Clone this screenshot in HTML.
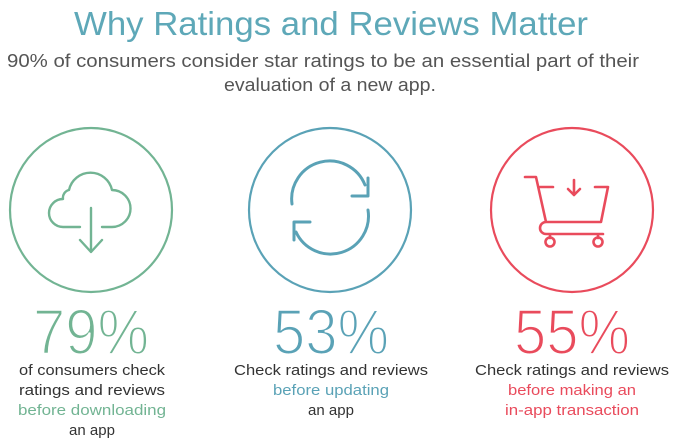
<!DOCTYPE html>
<html><head><meta charset="utf-8"><style>
html,body{margin:0;padding:0;background:#fff;width:694px;height:448px;overflow:hidden}
svg{display:block}
text{font-family:"Liberation Sans",sans-serif}
</style></head><body>
<svg width="694" height="448" viewBox="0 0 694 448">
<text x="331" y="35" text-anchor="middle" font-size="33" fill="#5ea8b8" textLength="514" lengthAdjust="spacingAndGlyphs">Why Ratings and Reviews Matter</text>
<text x="323" y="67" text-anchor="middle" font-size="18" fill="#555" textLength="632" lengthAdjust="spacingAndGlyphs">90% of consumers consider star ratings to be an essential part of their</text>
<text x="330" y="91" text-anchor="middle" font-size="18" fill="#555" textLength="212" lengthAdjust="spacingAndGlyphs">evaluation of a new app.</text>

<g fill="none" stroke-width="2.2" stroke-linecap="round" stroke-linejoin="round">
<ellipse cx="91" cy="210" rx="81" ry="82" stroke="#72b493"/>
<ellipse cx="330" cy="210" rx="81" ry="82" stroke="#5aa2b6"/>
<ellipse cx="572" cy="210" rx="81" ry="82" stroke="#e94b5c"/>
<path stroke="#72b493" stroke-width="2.4" d="M80 227 H63 a14 14 0 0 1 0 -28 a8 8 0 0 1 6 -9 a22 22 0 0 1 43 0 a12 12 0 0 1 0 37 H102 M91 208 V252 M80 240 L91 252 L102 240"/>
<path stroke="#5aa2b6" stroke-width="3" d="M292 204 A38 38 0 0 1 365 185 M352 196 H368 V178 M368 210 A38 38 0 0 1 296 232 M310 222 H294 V240"/>
<path stroke="#e94b5c" stroke-width="2.6" d="M525 177 H536 L546 222 H601 L608 187 H595 M540 187 H553 M574 180 V195 M568 189 L574 195 L580 189 M546 222 a6 6 0 0 0 0 12 H603 M550 234 V238 M598 234 V238"/>
<circle cx="550" cy="242" r="4.5" stroke="#e94b5c" stroke-width="2.6"/>
<circle cx="598" cy="242" r="4.5" stroke="#e94b5c" stroke-width="2.6"/>
</g>

<g font-family="'Liberation Sans',sans-serif" font-size="64" stroke="#fff" stroke-width="2">
<text x="91" y="354" text-anchor="middle" fill="#72b493" textLength="116" lengthAdjust="spacingAndGlyphs">79%</text>
<text x="331" y="354" text-anchor="middle" fill="#5aa2b6" textLength="116" lengthAdjust="spacingAndGlyphs">53%</text>
<text x="572" y="354" text-anchor="middle" fill="#e94b5c" textLength="116" lengthAdjust="spacingAndGlyphs">55%</text>
</g>

<g font-size="15" text-anchor="middle">
<text x="92" y="375" fill="#333" textLength="146" lengthAdjust="spacingAndGlyphs">of consumers check</text>
<text x="92" y="395" fill="#333" textLength="146" lengthAdjust="spacingAndGlyphs">ratings and reviews</text>
<text x="92" y="415" fill="#72b493" textLength="148" lengthAdjust="spacingAndGlyphs">before downloading</text>
<text x="92" y="435" fill="#333">an app</text>

<text x="331" y="375" fill="#333" textLength="194" lengthAdjust="spacingAndGlyphs">Check ratings and reviews</text>
<text x="331" y="395" fill="#5aa2b6" textLength="116" lengthAdjust="spacingAndGlyphs">before updating</text>
<text x="331" y="415" fill="#333">an app</text>

<text x="572" y="375" fill="#333" textLength="194" lengthAdjust="spacingAndGlyphs">Check ratings and reviews</text>
<text x="572" y="395" fill="#e94b5c" textLength="128" lengthAdjust="spacingAndGlyphs">before making an</text>
<text x="572" y="415" fill="#e94b5c" textLength="134" lengthAdjust="spacingAndGlyphs">in-app transaction</text>
</g>
</svg>
</body></html>
